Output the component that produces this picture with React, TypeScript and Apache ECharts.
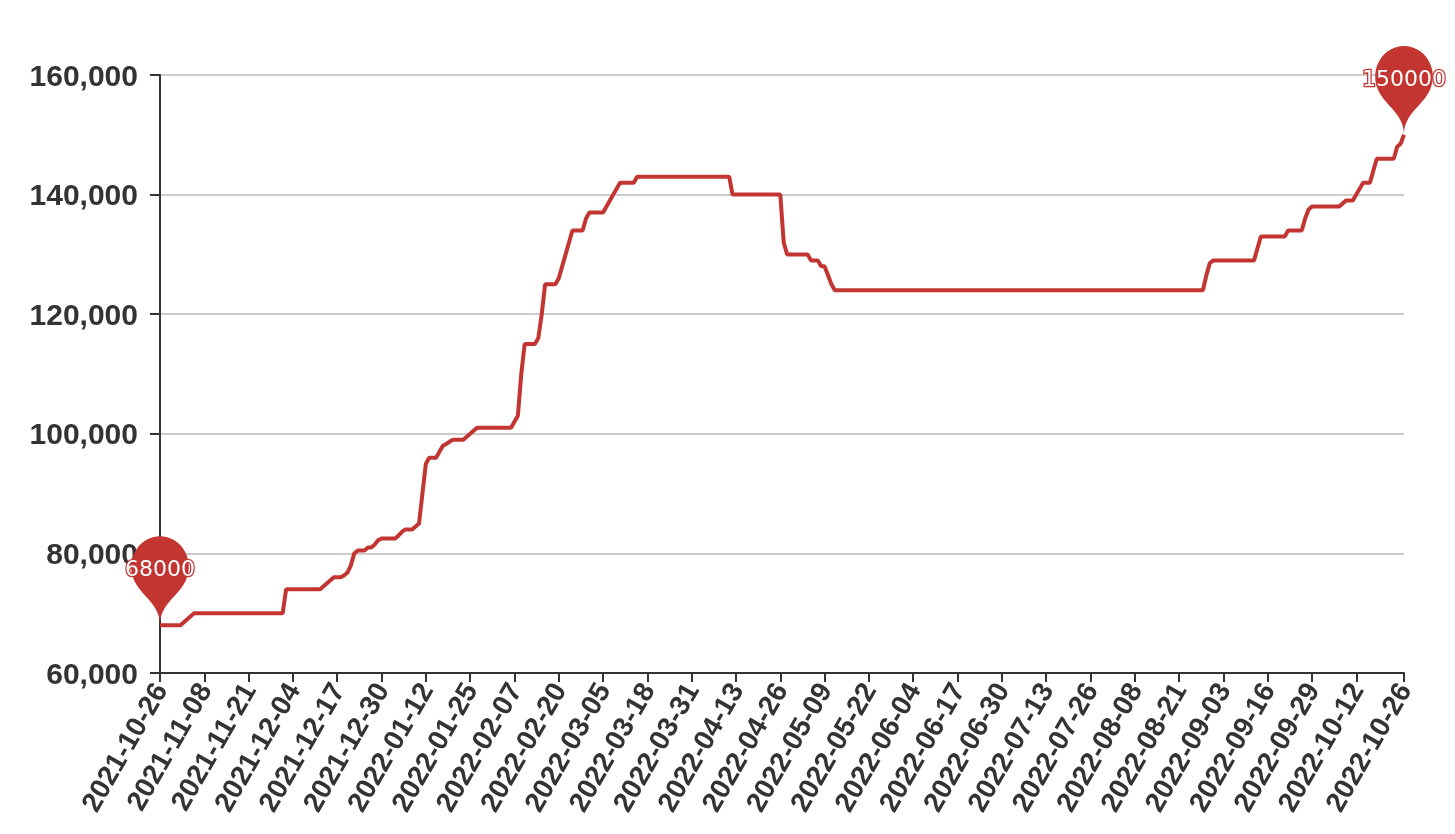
import React, { useEffect, useRef } from "react";
import * as echarts from "echarts";

// ---- Data ----
const startDate = "2021-10-26";
const dayCount = 366;

function buildDates(): string[] {
  const out: string[] = [];
  const [y, m, d] = startDate.split("-").map(Number);
  const t0 = Date.UTC(y, m - 1, d);
  for (let i = 0; i < dayCount; i++) {
    const dt = new Date(t0 + i * 86400000);
    const mm = String(dt.getUTCMonth() + 1).padStart(2, "0");
    const dd = String(dt.getUTCDate()).padStart(2, "0");
    out.push(`${dt.getUTCFullYear()}-${mm}-${dd}`);
  }
  return out;
}
const dates = buildDates();

const prices = [
  68000, 68000, 68000, 68000, 68000, 68000, 68000, 68500, 69000, 69500, // 0
  70000, 70000, 70000, 70000, 70000, 70000, 70000, 70000, 70000, 70000, // 10
  70000, 70000, 70000, 70000, 70000, 70000, 70000, 70000, 70000, 70000, // 20
  70000, 70000, 70000, 70000, 70000, 70000, 70000, 74000, 74000, 74000, // 30
  74000, 74000, 74000, 74000, 74000, 74000, 74000, 74000, 74500, 75000, // 40
  75500, 76000, 76000, 76000, 76300, 76800, 78000, 80000, 80500, 80500, // 50
  80500, 81000, 81000, 81500, 82200, 82500, 82500, 82500, 82500, 82500, // 60
  83000, 83600, 84000, 84000, 84000, 84500, 85000, 90000, 95000, 96000, // 70
  96000, 96000, 97000, 98000, 98300, 98700, 99000, 99000, 99000, 99000, // 80
  99500, 100000, 100500, 101000, 101000, 101000, 101000, 101000, 101000, 101000, // 90
  101000, 101000, 101000, 101000, 102000, 103000, 110000, 115000, 115000, 115000, // 100
  115000, 116000, 120000, 125000, 125000, 125000, 125000, 126000, 128000, 130000, // 110
  132000, 134000, 134000, 134000, 134000, 136000, 137000, 137000, 137000, 137000, // 120
  137000, 138000, 139000, 140000, 141000, 142000, 142000, 142000, 142000, 142000, // 130
  143000, 143000, 143000, 143000, 143000, 143000, 143000, 143000, 143000, 143000, // 140
  143000, 143000, 143000, 143000, 143000, 143000, 143000, 143000, 143000, 143000, // 150
  143000, 143000, 143000, 143000, 143000, 143000, 143000, 143000, 140000, 140000, // 160
  140000, 140000, 140000, 140000, 140000, 140000, 140000, 140000, 140000, 140000, // 170
  140000, 140000, 140000, 132000, 130000, 130000, 130000, 130000, 130000, 130000, // 180
  130000, 129000, 129000, 129000, 128000, 128000, 126500, 125000, 124000, 124000, // 190
  124000, 124000, 124000, 124000, 124000, 124000, 124000, 124000, 124000, 124000, // 200
  124000, 124000, 124000, 124000, 124000, 124000, 124000, 124000, 124000, 124000, // 210
  124000, 124000, 124000, 124000, 124000, 124000, 124000, 124000, 124000, 124000, // 220
  124000, 124000, 124000, 124000, 124000, 124000, 124000, 124000, 124000, 124000, // 230
  124000, 124000, 124000, 124000, 124000, 124000, 124000, 124000, 124000, 124000, // 240
  124000, 124000, 124000, 124000, 124000, 124000, 124000, 124000, 124000, 124000, // 250
  124000, 124000, 124000, 124000, 124000, 124000, 124000, 124000, 124000, 124000, // 260
  124000, 124000, 124000, 124000, 124000, 124000, 124000, 124000, 124000, 124000, // 270
  124000, 124000, 124000, 124000, 124000, 124000, 124000, 124000, 124000, 124000, // 280
  124000, 124000, 124000, 124000, 124000, 124000, 124000, 124000, 124000, 124000, // 290
  124000, 124000, 124000, 124000, 124000, 124000, 124000, 126500, 128500, 129000, // 300
  129000, 129000, 129000, 129000, 129000, 129000, 129000, 129000, 129000, 129000, // 310
  129000, 129000, 131000, 133000, 133000, 133000, 133000, 133000, 133000, 133000, // 320
  133000, 134000, 134000, 134000, 134000, 134000, 136000, 137500, 138000, 138000, // 330
  138000, 138000, 138000, 138000, 138000, 138000, 138000, 138500, 139000, 139000, // 340
  139000, 140000, 141000, 142000, 142000, 142000, 144000, 146000, 146000, 146000, // 350
  146000, 146000, 146000, 148000, 148500, 150000, // 360
];

const yMin = 60000;
const yMax = 160000;
const yInterval = 20000;
const labelStep = 13;

const lineColor = "#c23531";
const fontFamily = '"Liberation Sans", Arial, sans-serif';

export default function App() {
  const ref = useRef<HTMLDivElement>(null);

  useEffect(() => {
    if (!ref.current) return;
    const chart = echarts.init(ref.current, undefined, { renderer: "svg" });
    const last = dates.length - 1;
    const showIdx = (i: number) =>
      (i % labelStep === 0 && i + labelStep <= last) || i === last;

    const maxVal = Math.max(...prices);
    const minVal = Math.min(...prices);
    const maxIdx = prices.indexOf(maxVal);
    const minIdx = prices.indexOf(minVal);

    chart.setOption({
      animation: false,
      grid: { left: 160, right: 51, top: 75, bottom: 161, containLabel: false },
      xAxis: {
        type: "category",
        data: dates,
        boundaryGap: false,
        axisLine: { lineStyle: { color: "#333", width: 2 } },
        axisTick: { interval: showIdx, length: 9, lineStyle: { color: "#333", width: 2 } },
        axisLabel: {
          interval: showIdx,
          rotate: 60,
          margin: 12,
          color: "#333",
          fontSize: 28,
          fontWeight: "bold",
          fontFamily,
        },
        splitLine: { show: false },
      },
      yAxis: {
        type: "value",
        min: yMin,
        max: yMax,
        interval: yInterval,
        axisLine: { show: true, lineStyle: { color: "#333", width: 2 } },
        axisTick: { show: true, length: 10, lineStyle: { color: "#333", width: 2 } },
        axisLabel: {
          margin: 22,
          color: "#333",
          fontSize: 30,
          fontWeight: "bold",
          fontFamily,
          formatter: (v: number) => v.toLocaleString("en-US"),
        },
        splitLine: { lineStyle: { color: "#ccc", width: 2 } },
      },
      series: [
        {
          type: "line",
          data: prices,
          showSymbol: false,
          symbol: "none",
          lineStyle: { color: lineColor, width: 4 },
          itemStyle: { color: lineColor },
          markPoint: {
            symbol: "pin",
            symbolSize: [96, 102],
            itemStyle: { color: lineColor },
            label: {
              fontSize: 22,
              fontFamily: '"DejaVu Sans", sans-serif',
              color: "#fff",
              textBorderColor: lineColor,
              textBorderWidth: 2.5,
              offset: [0, -3],
            },
            data: [
              { name: "max", coord: [dates[maxIdx], maxVal], value: maxVal },
              { name: "min", coord: [dates[minIdx], minVal], value: minVal },
            ],
          },
        },
      ],
    });
    return () => chart.dispose();
  }, []);

  return (
    <div
      ref={ref}
      style={{ position: "fixed", left: 0, top: 0, width: 1455, height: 834 }}
    />
  );
}
